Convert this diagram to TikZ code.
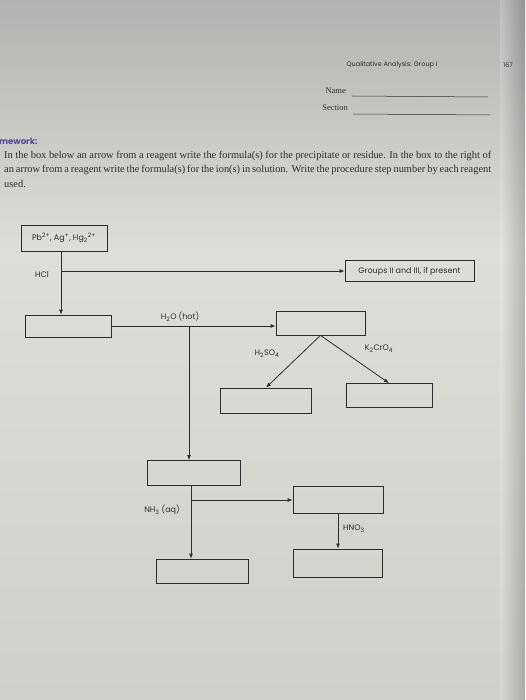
\documentclass[tikz,border=0pt]{standalone}
\usepackage{fontspec}
\setmainfont{Liberation Serif}
\setsansfont{Poppins}
\usetikzlibrary{arrows.meta}
\definecolor{ink}{RGB}{45,45,45}
\definecolor{pagetop}{RGB}{178,178,176}
\definecolor{pagemid}{RGB}{222,221,216}
\definecolor{pagebot}{RGB}{208,207,202}
\definecolor{hwcol}{RGB}{88,72,150}
\tikzset{
  x=1pt, y=-1pt,
  wbox/.style={draw=ink, line width=0.8pt, minimum width=#1, inner sep=0pt},
  lbl/.style={font=\sffamily\fontsize{8}{9}\selectfont, text=ink, inner sep=1pt},
  arr/.style={draw=ink, line width=0.8pt, -{Latex[length=5pt,width=4pt]}},
  ln/.style={draw=ink, line width=0.8pt},
  body/.style={font=\fontsize{10.4}{11}\selectfont, text=ink, anchor=west, inner sep=0pt}
}
\begin{document}
\begin{tikzpicture}
\useasboundingbox (0,0) rectangle (525,700);
% page background
\shade[top color=pagetop, bottom color=pagemid] (0,0) rectangle (525,250);
\shade[top color=pagemid, bottom color=pagebot] (0,250) rectangle (525,700);
\shade[left color=pagemid!0!white, right color=black, opacity=0.18] (500,0) rectangle (525,700);

% header
\node[font=\sffamily\fontsize{6.5}{7}\selectfont, text=ink] (hdr) at (392,65) {Qualitative Analysis: Group I};
\node[font=\sffamily\fontsize{6.3}{7}\selectfont, text=ink] (pg) at (508,65) {167};
\node[font=\fontsize{8.5}{9}\selectfont, text=ink, anchor=east, inner sep=0pt] (nm) at (346,91) {Name};
\coordinate (nmA) at (352,96); \coordinate (nmB) at (488,97);
\draw[ln, line width=0.5pt] (nmA) -- (nmB);
\node[font=\fontsize{8.5}{9}\selectfont, text=ink, anchor=east, inner sep=0pt] (sc) at (348,108) {Section};
\coordinate (scA) at (353,114); \coordinate (scB) at (490,115);
\draw[ln, line width=0.5pt] (scA) -- (scB);

% instructions
\node[font=\sffamily\bfseries\fontsize{8.5}{9}\selectfont, text=hwcol, anchor=west, inner sep=0pt] (hw) at (-1,141) {mework:};
\node[body] (t1) at (4,156) {\makebox[487pt][s]{In the box below an arrow from a reagent write the formula(s) for the precipitate or residue. In the box to the right of}};
\node[body] (t2) at (4,170) {\makebox[487pt][s]{an arrow from a reagent write the formula(s) for the ion(s) in solution. Write the procedure step number by each reagent}};
\node[body] (t3) at (4,184) {used.};

% boxes
\node[wbox=86pt, minimum height=26pt, lbl, draw=ink, line width=0.8pt] (b1) at (64,238) {Pb\textsuperscript{2+}, Ag\textsuperscript{+}, Hg\textsubscript{2}\textsuperscript{2+}};
\node[wbox=129pt, minimum height=21pt, lbl, draw=ink, line width=0.8pt] (b2) at (409.5,271) {Groups II and III, if present};
\node[wbox=86pt, minimum height=22pt] (b3) at (68,326) {};
\node[wbox=89pt, minimum height=24pt] (b4) at (320.5,323) {};
\node[wbox=91pt, minimum height=25pt] (b5) at (266,400.5) {};
\node[wbox=86pt, minimum height=24pt] (b6) at (389,395.5) {};
\node[wbox=93pt, minimum height=25pt] (b7) at (193.5,473) {};
\node[wbox=90pt, minimum height=27pt] (b8) at (338,500) {};
\node[wbox=89pt, minimum height=28pt] (b9) at (338,563) {};
\node[wbox=92pt, minimum height=24pt] (b10) at (202,571) {};

% junctions
\coordinate (j1) at (61,271);
\coordinate (j2) at (189,326);
\coordinate (j3) at (191,500);

% connectors
\draw[ln] (b1.south -| j1) -- (j1);
\draw[arr] (j1) -- (b3.north -| j1);
\draw[arr] (j1) -- (b2.west);
\draw[arr] (b3.east) -- (b4.west |- b3.east);
\draw[arr] (j2) -- (b7.north -| j2);
\draw[arr] (b4.south) -- (b5.north);
\draw[arr] (b4.south) -- (b6.north);
\draw[ln] (b7.south -| j3) -- (j3);
\draw[arr] (j3) -- (b10.north -| j3);
\draw[arr] (j3) -- (b8.west);
\draw[arr] (b8.south) -- (b9.north);

% reagent labels
\node[lbl] (l1) at (42,275) {HCl};
\node[lbl] (l2) at (180,317) {H\textsubscript{2}O (hot)};
\node[lbl] (l3) at (267,354) {H\textsubscript{2}SO\textsubscript{4}};
\node[lbl] (l4) at (379,349) {K\textsubscript{2}CrO\textsubscript{4}};
\node[lbl] (l5) at (162,510) {NH\textsubscript{3} (aq)};
\node[lbl, anchor=west] (l6) at (342,529) {HNO\textsubscript{3}};
\end{tikzpicture}
\end{document}
